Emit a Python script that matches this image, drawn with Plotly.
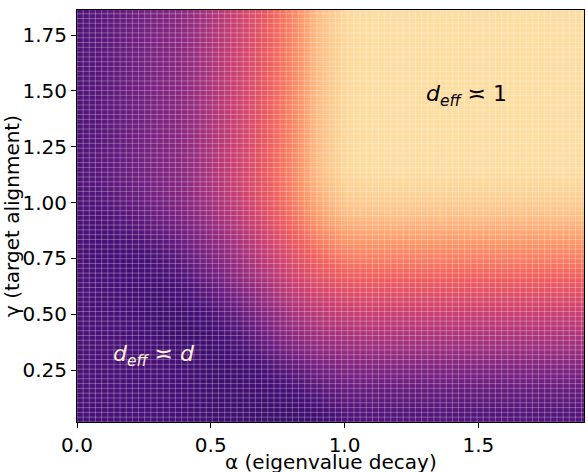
import plotly.graph_objects as go
import numpy as np

# alpha (eigenvalue decay) cell centres, gamma (target alignment) cell centres
alpha = [0.0, 0.1, 0.2, 0.3, 0.4, 0.5, 0.6, 0.7, 0.8, 0.9,
         1.0, 1.1, 1.2, 1.3, 1.4, 1.5, 1.6, 1.7, 1.8, 1.9]
gamma = [0.05, 0.15, 0.25, 0.35, 0.45, 0.55, 0.65, 0.75, 0.85, 0.95,
         1.05, 1.15, 1.25, 1.35, 1.45, 1.55, 1.65, 1.75, 1.85]

# normalised d_eff (row = gamma, bottom to top)
z = [
    [0.23, 0.23, 0.23, 0.23, 0.22, 0.21, 0.21, 0.20, 0.20, 0.21, 0.25, 0.26, 0.26, 0.26, 0.26, 0.26, 0.26, 0.26, 0.26, 0.26],
    [0.24, 0.24, 0.23, 0.23, 0.22, 0.21, 0.21, 0.21, 0.22, 0.26, 0.30, 0.30, 0.30, 0.30, 0.30, 0.30, 0.30, 0.30, 0.30, 0.30],
    [0.24, 0.24, 0.23, 0.23, 0.22, 0.21, 0.21, 0.23, 0.28, 0.33, 0.36, 0.36, 0.36, 0.36, 0.36, 0.36, 0.36, 0.36, 0.36, 0.36],
    [0.24, 0.24, 0.23, 0.22, 0.21, 0.21, 0.23, 0.29, 0.36, 0.41, 0.43, 0.44, 0.44, 0.44, 0.44, 0.44, 0.44, 0.44, 0.44, 0.44],
    [0.24, 0.24, 0.23, 0.21, 0.20, 0.22, 0.27, 0.35, 0.43, 0.48, 0.50, 0.51, 0.51, 0.51, 0.51, 0.51, 0.51, 0.51, 0.51, 0.51],
    [0.24, 0.23, 0.22, 0.21, 0.22, 0.26, 0.33, 0.41, 0.49, 0.54, 0.57, 0.58, 0.58, 0.58, 0.58, 0.58, 0.58, 0.58, 0.58, 0.58],
    [0.24, 0.23, 0.22, 0.22, 0.25, 0.31, 0.39, 0.47, 0.55, 0.61, 0.64, 0.65, 0.65, 0.65, 0.65, 0.65, 0.65, 0.65, 0.65, 0.65],
    [0.24, 0.22, 0.22, 0.24, 0.29, 0.36, 0.44, 0.52, 0.60, 0.67, 0.72, 0.73, 0.73, 0.73, 0.73, 0.73, 0.73, 0.73, 0.73, 0.73],
    [0.24, 0.23, 0.25, 0.28, 0.33, 0.40, 0.48, 0.56, 0.65, 0.74, 0.79, 0.80, 0.80, 0.80, 0.80, 0.80, 0.80, 0.80, 0.80, 0.80],
    [0.24, 0.25, 0.28, 0.32, 0.37, 0.44, 0.52, 0.60, 0.70, 0.80, 0.86, 0.87, 0.87, 0.87, 0.87, 0.87, 0.87, 0.87, 0.87, 0.87],
    [0.25, 0.27, 0.31, 0.35, 0.39, 0.47, 0.55, 0.63, 0.73, 0.84, 0.90, 0.91, 0.91, 0.91, 0.91, 0.91, 0.91, 0.91, 0.91, 0.91],
    [0.25, 0.28, 0.32, 0.36, 0.40, 0.48, 0.56, 0.64, 0.74, 0.86, 0.92, 0.93, 0.93, 0.93, 0.93, 0.93, 0.93, 0.93, 0.93, 0.93],
    [0.25, 0.28, 0.32, 0.36, 0.40, 0.48, 0.56, 0.64, 0.74, 0.86, 0.92, 0.93, 0.93, 0.93, 0.93, 0.93, 0.93, 0.93, 0.93, 0.93],
    [0.25, 0.28, 0.32, 0.36, 0.40, 0.48, 0.56, 0.64, 0.74, 0.86, 0.92, 0.93, 0.93, 0.93, 0.93, 0.93, 0.93, 0.93, 0.93, 0.93],
    [0.25, 0.28, 0.32, 0.36, 0.40, 0.48, 0.56, 0.64, 0.74, 0.86, 0.92, 0.93, 0.93, 0.93, 0.93, 0.93, 0.93, 0.93, 0.93, 0.93],
    [0.25, 0.28, 0.32, 0.36, 0.40, 0.48, 0.56, 0.64, 0.74, 0.86, 0.92, 0.93, 0.93, 0.93, 0.93, 0.93, 0.93, 0.93, 0.93, 0.93],
    [0.25, 0.28, 0.32, 0.36, 0.40, 0.48, 0.56, 0.64, 0.74, 0.86, 0.92, 0.93, 0.93, 0.93, 0.93, 0.93, 0.93, 0.93, 0.93, 0.93],
    [0.25, 0.28, 0.32, 0.36, 0.40, 0.48, 0.56, 0.64, 0.74, 0.86, 0.92, 0.93, 0.93, 0.93, 0.93, 0.93, 0.93, 0.93, 0.93, 0.93],
    [0.25, 0.28, 0.32, 0.36, 0.40, 0.48, 0.56, 0.64, 0.74, 0.86, 0.92, 0.93, 0.93, 0.93, 0.93, 0.93, 0.93, 0.93, 0.93, 0.93],
]

x_range = [0.0, 1.895]
y_range = [0.018, 1.862]
font = "DejaVu Sans"

fig = go.Figure(go.Heatmap(x=alpha, y=gamma, z=z, colorscale="Magma",
                           zmin=0, zmax=1, zsmooth="best", showscale=False,
                           hoverinfo="skip"))

# faint mesh lines like pcolormesh edges
path = ""
for gx in np.arange(x_range[0], x_range[1], 0.023):
    path += f"M {gx:.4f} {y_range[0]} L {gx:.4f} {y_range[1]} "
for gy in np.arange(y_range[0], y_range[1], 0.0215):
    path += f"M {x_range[0]} {gy:.4f} L {x_range[1]} {gy:.4f} "
fig.add_shape(type="path", path=path, xref="x", yref="y", layer="above",
              line=dict(color="rgba(255,255,255,0.28)", width=1))

fig.add_annotation(x=1.455, y=1.48, xref="x", yref="y", showarrow=False,
                   text="<i>d</i><sub><i>eff</i></sub> \u224d 1",
                   font=dict(family=font, size=22, color="black"))
fig.add_annotation(x=0.287, y=0.315, xref="x", yref="y", showarrow=False,
                   text="<i>d</i><sub><i>eff</i></sub> \u224d <i>d</i>",
                   font=dict(family=font, size=22, color="#fbeed5"))

# axis titles
fig.add_annotation(x=0.5, y=0, xref="paper", yref="paper", yanchor="top",
                   yshift=-26, showarrow=False, text="\u03b1 (eigenvalue decay)",
                   font=dict(family=font, size=20, color="black"))
fig.add_annotation(x=0, y=0.5, xref="paper", yref="paper", xanchor="center",
                   xshift=-65, textangle=-90, showarrow=False,
                   text="\u03b3 (target alignment)",
                   font=dict(family=font, size=20, color="black"))

axis_style = dict(showline=True, linecolor="black", linewidth=1, mirror=True,
                  ticks="outside", ticklen=5, tickwidth=1, tickcolor="black",
                  showgrid=False, zeroline=False, automargin=False,
                  tickfont=dict(family=font, size=20, color="black"))

fig.update_xaxes(range=x_range, tickvals=[0.0, 0.5, 1.0, 1.5], tickformat=".1f",
                 **axis_style)
fig.update_yaxes(range=y_range, tickvals=[0.25, 0.5, 0.75, 1.0, 1.25, 1.5, 1.75],
                 tickformat=".2f", **axis_style)

fig.update_layout(width=587, height=472, margin=dict(l=77, r=3, t=10, b=50),
                  paper_bgcolor="white", plot_bgcolor="white",
                  font=dict(family=font))

# drop the default page margin so the figure fills the window exactly
fig.write_html("out.html", config={"displayModeBar": False},
               post_script="document.body.style.margin='0px';")
